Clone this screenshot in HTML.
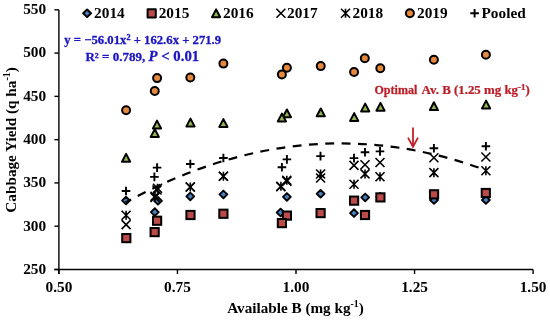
<!DOCTYPE html>
<html><head><meta charset="utf-8"><style>
html,body{margin:0;padding:0;background:#fff;}
body{width:550px;height:320px;overflow:hidden;}
svg{display:block;}
</style></head><body>
<svg width="550" height="320" viewBox="0 0 550 320">
<rect width="550" height="320" fill="#fff"/>
<g stroke="#000" stroke-width="1.4" fill="none">
<path d="M58.9 9.8V274"/>
<path d="M54.4 269.5H533.1"/>
<path d="M54.4 269.5H58.9"/>
<path d="M54.4 226.22H58.9"/>
<path d="M54.4 182.93H58.9"/>
<path d="M54.4 139.65H58.9"/>
<path d="M54.4 96.37H58.9"/>
<path d="M54.4 53.08H58.9"/>
<path d="M54.4 9.8H58.9"/>
<path d="M58.9 269.5V274"/>
<path d="M177.45 269.5V274"/>
<path d="M296 269.5V274"/>
<path d="M414.55 269.5V274"/>
<path d="M533.1 269.5V274"/>
</g>
<g font-family="Liberation Serif, Times New Roman, serif" font-weight="bold" font-size="14.67" fill="#000">
<text transform="translate(46.2 273.8) scale(1.045 1)" text-anchor="end">250</text>
<text transform="translate(46.2 230.52) scale(1.045 1)" text-anchor="end">300</text>
<text transform="translate(46.2 187.23) scale(1.045 1)" text-anchor="end">350</text>
<text transform="translate(46.2 143.95) scale(1.045 1)" text-anchor="end">400</text>
<text transform="translate(46.2 100.67) scale(1.045 1)" text-anchor="end">450</text>
<text transform="translate(46.2 57.38) scale(1.045 1)" text-anchor="end">500</text>
<text transform="translate(46.2 14.1) scale(1.045 1)" text-anchor="end">550</text>
<text transform="translate(58.9 291.6) scale(1.045 1)" text-anchor="middle">0.50</text>
<text transform="translate(177.45 291.6) scale(1.045 1)" text-anchor="middle">0.75</text>
<text transform="translate(296 291.6) scale(1.045 1)" text-anchor="middle">1.00</text>
<text transform="translate(414.55 291.6) scale(1.045 1)" text-anchor="middle">1.25</text>
<text transform="translate(533.1 291.6) scale(1.045 1)" text-anchor="middle">1.50</text>
</g>
<g stroke="#000" stroke-width="1.8" fill="#487EBE" stroke-linejoin="round">
<path d="M126 196.75L129.95 200.6L126 204.45L122.05 200.6Z"/>
<path d="M158 196.95L161.95 200.8L158 204.65L154.05 200.8Z"/>
<path d="M154.8 208.25L158.75 212.1L154.8 215.95L150.85 212.1Z"/>
<path d="M190.3 192.55L194.25 196.4L190.3 200.25L186.35 196.4Z"/>
<path d="M223.4 190.55L227.35 194.4L223.4 198.25L219.45 194.4Z"/>
<path d="M280.6 208.65L284.55 212.5L280.6 216.35L276.65 212.5Z"/>
<path d="M286.9 193.05L290.85 196.9L286.9 200.75L282.95 196.9Z"/>
<path d="M320.6 189.9L324.55 193.75L320.6 197.6L316.65 193.75Z"/>
<path d="M354 209.25L357.95 213.1L354 216.95L350.05 213.1Z"/>
<path d="M365.2 193.55L369.15 197.4L365.2 201.25L361.25 197.4Z"/>
<path d="M380.3 192.95L384.25 196.8L380.3 200.65L376.35 196.8Z"/>
<path d="M434 196.15L437.95 200L434 203.85L430.05 200Z"/>
<path d="M485.9 196.15L489.85 200L485.9 203.85L481.95 200Z"/>
</g>
<g stroke="#000" stroke-width="2.0" fill="#BB4A48">
<rect x="122.2" y="234" width="8.2" height="8.2"/>
<rect x="153" y="216.65" width="8.2" height="8.2"/>
<rect x="150.55" y="228" width="8.2" height="8.2"/>
<rect x="186.4" y="210.9" width="8.2" height="8.2"/>
<rect x="219.3" y="209.65" width="8.2" height="8.2"/>
<rect x="282.8" y="211.5" width="8.2" height="8.2"/>
<rect x="277.8" y="219" width="8.2" height="8.2"/>
<rect x="316.5" y="209" width="8.2" height="8.2"/>
<rect x="350" y="196.55" width="8.2" height="8.2"/>
<rect x="360.9" y="210.9" width="8.2" height="8.2"/>
<rect x="376.3" y="193.3" width="8.2" height="8.2"/>
<rect x="429.95" y="190.2" width="8.2" height="8.2"/>
<rect x="481.7" y="188.9" width="8.2" height="8.2"/>
</g>
<g stroke="#000" stroke-width="2.0" fill="#93B652" stroke-linejoin="round">
<path d="M126.1 153.9L130.2 161.7L122 161.7Z"/>
<path d="M157 120.6L161.1 128.4L152.9 128.4Z"/>
<path d="M154.8 129.1L158.9 136.9L150.7 136.9Z"/>
<path d="M190.5 118.6L194.6 126.4L186.4 126.4Z"/>
<path d="M223.4 119.1L227.5 126.9L219.3 126.9Z"/>
<path d="M286.9 109.5L291 117.3L282.8 117.3Z"/>
<path d="M281.9 113.6L286 121.4L277.8 121.4Z"/>
<path d="M320.75 108.5L324.85 116.3L316.65 116.3Z"/>
<path d="M354.2 113.1L358.3 120.9L350.1 120.9Z"/>
<path d="M365.2 103.6L369.3 111.4L361.1 111.4Z"/>
<path d="M380.5 102.9L384.6 110.7L376.4 110.7Z"/>
<path d="M433.9 102.3L438 110.1L429.8 110.1Z"/>
<path d="M486.1 100.6L490.2 108.4L482 108.4Z"/>
</g>
<g stroke="#000" stroke-width="1.6" fill="none">
<path d="M121.6 220.1L130.6 229.1M121.6 229.1L130.6 220.1"/>
<path d="M152.5 185.5L161.5 194.5M152.5 194.5L161.5 185.5"/>
<path d="M150.5 193L159.5 202M150.5 202L159.5 193"/>
<path d="M185.8 182.5L194.8 191.5M185.8 191.5L194.8 182.5"/>
<path d="M218.9 171.75L227.9 180.75M218.9 180.75L227.9 171.75"/>
<path d="M276.3 182.3L285.3 191.3M276.3 191.3L285.3 182.3"/>
<path d="M282.3 176.7L291.3 185.7M282.3 185.7L291.3 176.7"/>
<path d="M316.1 173.5L325.1 182.5M316.1 182.5L325.1 173.5"/>
<path d="M349.5 160.9L358.5 169.9M349.5 169.9L358.5 160.9"/>
<path d="M360.5 160.2L369.5 169.2M360.5 169.2L369.5 160.2"/>
<path d="M375.5 158L384.5 167M375.5 167L384.5 158"/>
<path d="M429.4 153.3L438.4 162.3M429.4 162.3L438.4 153.3"/>
<path d="M481.4 152.5L490.4 161.5M481.4 161.5L490.4 152.5"/>
</g>
<g stroke="#000" stroke-width="1.6" fill="none">
<path d="M121.6 210.7L130.6 219.7M121.6 219.7L130.6 210.7M126.1 210.7L126.1 219.7"/>
<path d="M153 183.8L162 192.8M153 192.8L162 183.8M157.5 183.8L157.5 192.8"/>
<path d="M150.5 191.8L159.5 200.8M150.5 200.8L159.5 191.8M155 191.8L155 200.8"/>
<path d="M185.8 182.5L194.8 191.5M185.8 191.5L194.8 182.5M190.3 182.5L190.3 191.5"/>
<path d="M218.9 171.75L227.9 180.75M218.9 180.75L227.9 171.75M223.4 171.75L223.4 180.75"/>
<path d="M276.4 181.7L285.4 190.7M276.4 190.7L285.4 181.7M280.9 181.7L280.9 190.7"/>
<path d="M282.3 175.8L291.3 184.8M282.3 184.8L291.3 175.8M286.8 175.8L286.8 184.8"/>
<path d="M316.1 169.5L325.1 178.5M316.1 178.5L325.1 169.5M320.6 169.5L320.6 178.5"/>
<path d="M349.5 179.7L358.5 188.7M349.5 188.7L358.5 179.7M354 179.7L354 188.7"/>
<path d="M360.5 169.4L369.5 178.4M360.5 178.4L369.5 169.4M365 169.4L365 178.4"/>
<path d="M375.5 172.2L384.5 181.2M375.5 181.2L384.5 172.2M380 172.2L380 181.2"/>
<path d="M429.4 168.15L438.4 177.15M429.4 177.15L438.4 168.15M433.9 168.15L433.9 177.15"/>
<path d="M481.4 166.3L490.4 175.3M481.4 175.3L490.4 166.3M485.9 166.3L485.9 175.3"/>
</g>
<g stroke="#000" stroke-width="2.0" fill="#E6883B">
<circle cx="126.1" cy="110.3" r="4"/>
<circle cx="157.1" cy="78.1" r="4"/>
<circle cx="154.75" cy="91" r="4"/>
<circle cx="190.3" cy="77.5" r="4"/>
<circle cx="223.4" cy="63.6" r="4"/>
<circle cx="286.9" cy="67.75" r="4"/>
<circle cx="281.9" cy="74.4" r="4"/>
<circle cx="320.75" cy="66.1" r="4"/>
<circle cx="354.06" cy="72" r="4"/>
<circle cx="364.8" cy="58.25" r="4"/>
<circle cx="380.3" cy="68.3" r="4"/>
<circle cx="433.9" cy="59.8" r="4"/>
<circle cx="485.9" cy="54.8" r="4"/>
</g>
<g stroke="#000" stroke-width="1.9" fill="none">
<path d="M121.7 191L130.3 191M126 186.7L126 195.3"/>
<path d="M152.8 167.6L161.4 167.6M157.1 163.3L157.1 171.9"/>
<path d="M150.1 176.9L158.7 176.9M154.4 172.6L154.4 181.2"/>
<path d="M186 164L194.6 164M190.3 159.7L190.3 168.3"/>
<path d="M219.1 158L227.7 158M223.4 153.7L223.4 162.3"/>
<path d="M282.6 159.4L291.2 159.4M286.9 155.1L286.9 163.7"/>
<path d="M277.6 167.25L286.2 167.25M281.9 162.95L281.9 171.55"/>
<path d="M316.2 156.1L324.8 156.1M320.5 151.8L320.5 160.4"/>
<path d="M349.7 158.1L358.3 158.1M354 153.8L354 162.4"/>
<path d="M360.7 152.3L369.3 152.3M365 148L365 156.6"/>
<path d="M375.7 151.4L384.3 151.4M380 147.1L380 155.7"/>
<path d="M429.6 148.25L438.2 148.25M433.9 143.95L433.9 152.55"/>
<path d="M481.6 146.25L490.2 146.25M485.9 141.95L485.9 150.55"/>
</g>
<path d="M125.5 202.44Q305.6 103.71 485.7 170.12" fill="none" stroke="#000" stroke-width="2.2" stroke-dasharray="8.9 7.46" stroke-dashoffset="2.6"/>
<g stroke="#C0232A" stroke-width="1.8" fill="none">
<path d="M413 127.5V146.5"/><path d="M408 137.6L413 146.8L418 137.6"/>
</g>
<g stroke="#000" stroke-width="2.0" stroke-linejoin="round">
<g fill="#487EBE"><path d="M87.1 9.45L91.05 13.3L87.1 17.15L83.15 13.3Z"/></g>
<g fill="#BB4A48"><rect x="147.6" y="9.2" width="8.2" height="8.2"/></g>
<g fill="#93B652"><path d="M216.1 9.4L220.2 17.2L212 17.2Z"/></g>
<g fill="none" stroke-width="1.6"><path d="M276.4 8.8L285.4 17.8M276.4 17.8L285.4 8.8"/></g>
<g fill="none" stroke-width="1.6"><path d="M341 8.8L350 17.8M341 17.8L350 8.8M345.5 8.8L345.5 17.8"/></g>
<g fill="#E6883B"><circle cx="409.9" cy="13.3" r="4"/></g>
<g fill="none" stroke-width="1.9"><path d="M470.3 13.3L478.9 13.3M474.6 9L474.6 17.6"/></g>
</g>
<g font-family="Liberation Serif, Times New Roman, serif" font-weight="bold" font-size="14.67" fill="#000">
<text transform="translate(94.1 18) scale(1.045 1)">2014</text>
<text transform="translate(158.7 18) scale(1.045 1)">2015</text>
<text transform="translate(223 18) scale(1.045 1)">2016</text>
<text transform="translate(287 18) scale(1.045 1)">2017</text>
<text transform="translate(352.5 18) scale(1.045 1)">2018</text>
<text transform="translate(417 18) scale(1.045 1)">2019</text>
<text transform="translate(481.5 18) scale(1.045 1)">Pooled</text>
</g>
<text transform="translate(64.3 43.8) scale(1.0242 1)" font-family="Liberation Serif, Times New Roman, serif" font-weight="bold" font-size="12.4" fill="#1C16C2" stroke="#1C16C2" stroke-width="0.3">y = −56.01x<tspan font-size="8" dy="-4.3">2</tspan><tspan dy="4.3"> + 162.6x + 271.9</tspan></text>
<text transform="translate(85.4 60.6) scale(1.0035 1)" font-family="Liberation Serif, Times New Roman, serif" font-weight="bold" font-size="13" fill="#1C16C2" stroke="#1C16C2" stroke-width="0.3">R² = 0.789, <tspan font-style="italic" font-size="14.7">P</tspan><tspan font-size="14.7"> &lt; 0.01</tspan></text>
<text transform="translate(374.5 94) scale(0.9884 1)" font-family="Liberation Serif, Times New Roman, serif" font-weight="bold" font-size="12.2" fill="#BC1E28" stroke="#BC1E28" stroke-width="0.25">Optimal</text>
<text transform="translate(421.6 94) scale(1.0569 1)" font-family="Liberation Serif, Times New Roman, serif" font-weight="bold" font-size="12.2" fill="#BC1E28" stroke="#BC1E28" stroke-width="0.25">Av. B (1.25 mg kg<tspan font-size="8.5" dy="-4.3">-1</tspan><tspan dy="4.3">)</tspan></text>
<text transform="translate(227.2 313) scale(1.0364 1)" font-family="Liberation Serif, Times New Roman, serif" font-weight="bold" font-size="14.67" fill="#000">Available B (mg kg<tspan font-size="9.5" dy="-5.6">-1</tspan><tspan dy="5.6">)</tspan></text>
<text transform="translate(15.6 212.64) rotate(-90) scale(1.0388 1)" font-family="Liberation Serif, Times New Roman, serif" font-weight="bold" font-size="14.67" fill="#000">Cabbage Yield (q ha<tspan font-size="9.5" dy="-5.6">-1</tspan><tspan dy="5.6">)</tspan></text>
</svg>
</body></html>
